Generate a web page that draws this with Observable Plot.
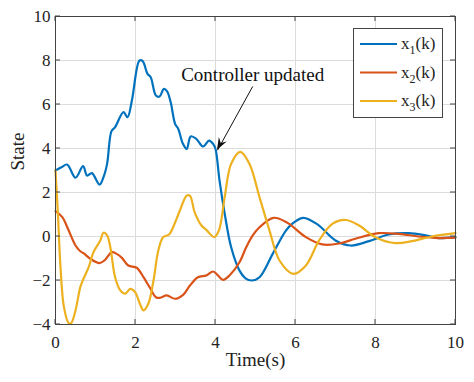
<!DOCTYPE html>
<html>
<head>
<meta charset="utf-8">
<script src="https://cdn.jsdelivr.net/npm/d3@7"></script>
<script src="https://cdn.jsdelivr.net/npm/@observablehq/plot@0.6"></script>
<style>
  body { margin: 0; background: white; }
  #wrap { position: relative; width: 474px; height: 382px; }
  #wrap svg text { font-family: 'Liberation Serif', 'Times New Roman', serif; }
  #legend { position: absolute; left: 353px; top: 28px; }
</style>
</head>
<body>
<div id="wrap"></div>
<script>
// ---- data ----
const x1Time = [0, 0.15, 0.29, 0.5, 0.69, 0.79, 0.91, 1.1, 1.2, 1.29, 1.4, 1.49, 1.7, 1.8, 1.91, 2.1, 2.18, 2.3, 2.38, 2.51, 2.6, 2.71, 2.79, 2.88, 2.99, 3.07, 3.18, 3.28, 3.38, 3.52, 3.69, 3.84, 3.94, 4.0, 4.1, 4.23, 4.39, 4.6, 4.75, 4.9, 5.1, 5.43, 5.76, 5.93, 6.2, 6.55, 7.0, 7.38, 7.84, 8.33, 8.83, 9.25, 9.58, 10];
const x1Vals = [3.0, 3.15, 3.27, 2.67, 3.2, 2.77, 2.88, 2.36, 2.7, 3.3, 4.79, 4.97, 5.65, 5.42, 6.18, 8.0, 7.97, 7.39, 7.24, 6.41, 6.36, 6.71, 6.6, 6.1, 5.12, 4.89, 4.24, 3.98, 4.55, 4.44, 4.09, 4.36, 4.21, 3.98, 2.55, 1.04, -0.48, -1.55, -1.9, -2.0, -1.85, -0.79, 0.27, 0.6, 0.85, 0.55, -0.18, -0.41, -0.21, 0.09, 0.15, 0.05, -0.07, -0.03];

const x2Time = [0, 0.17, 0.33, 0.5, 0.62, 0.7, 0.87, 1.1, 1.24, 1.41, 1.53, 1.66, 1.82, 2.03, 2.2, 2.36, 2.51, 2.61, 2.78, 2.99, 3.19, 3.36, 3.56, 3.77, 3.94, 4.06, 4.19, 4.35, 4.6, 4.77, 4.93, 5.1, 5.45, 5.8, 6.26, 6.67, 7.09, 7.5, 8.08, 8.58, 9.08, 9.58, 10];
const x2Vals = [1.15, 0.88, 0.27, -0.41, -0.67, -0.76, -1.01, -1.21, -1.06, -0.71, -0.79, -0.97, -1.32, -1.42, -1.85, -2.33, -2.76, -2.79, -2.68, -2.83, -2.65, -2.23, -1.85, -1.77, -1.59, -1.77, -1.97, -1.77, -1.17, -0.48, 0.05, 0.42, 0.85, 0.62, -0.03, -0.36, -0.32, -0.1, 0.15, 0.12, 0.0, -0.07, -0.05];

const x3Time = [0, 0.06, 0.12, 0.21, 0.33, 0.39, 0.5, 0.62, 0.7, 0.83, 0.95, 1.12, 1.2, 1.29, 1.37, 1.49, 1.62, 1.74, 1.87, 1.99, 2.11, 2.2, 2.32, 2.45, 2.57, 2.69, 2.84, 2.94, 3.11, 3.28, 3.36, 3.48, 3.65, 3.77, 3.97, 4.09, 4.23, 4.39, 4.62, 4.85, 5.1, 5.35, 5.6, 5.95, 6.26, 6.59, 6.92, 7.26, 7.59, 8.0, 8.5, 8.91, 9.41, 10];
const x3Vals = [3.0, 1.03, -1.23, -3.2, -3.94, -3.94, -3.36, -2.3, -1.92, -1.39, -0.71, -0.18, 0.17, 0.05, -0.48, -1.85, -2.45, -2.6, -2.38, -2.53, -3.06, -3.36, -3.06, -2.0, -0.64, -0.03, 0.09, 0.42, 1.18, 1.86, 1.86, 1.1, 0.5, 0.3, -0.03, 0.3, 1.79, 3.3, 3.85, 3.3, 1.79, 0.27, -1.09, -1.7, -1.32, -0.18, 0.57, 0.75, 0.5, -0.03, -0.3, -0.21, 0.0, 0.15];

const seriesLabels = [["x", "1", "(k)"], ["x", "2", "(k)"], ["x", "3", "(k)"]];
const seriesColors = ["#0072BD", "#D95319", "#EDB120"];

const xTicks = [0, 2, 4, 6, 8, 10];
const yTicks = [-4, -2, 0, 2, 4, 6, 8, 10];

// annotation (in data units: time, state)
const noteText = [{label: "Controller updated", x: 4.93, y: 7.36}];
const noteArrow = [{x1: 4.93, y1: 6.82, x2: 4.05, y2: 3.92}];

// ---- build ----
const serif = "'Liberation Serif', 'Times New Roman', serif";
const series = [
  {time: x1Time, vals: x1Vals},
  {time: x2Time, vals: x2Vals},
  {time: x3Time, vals: x3Vals}
];
const rows = series.flatMap((s, i) => s.time.map((t, j) => ({t, v: s.vals[j], k: i})));

const lineMarks = series.map((s, i) =>
  Plot.line(rows.filter(d => d.k === i), {x: "t", y: "v", stroke: seriesColors[i], strokeWidth: 2.2, curve: "catmull-rom"})
);

const chart = Plot.plot({
  width: 474,
  height: 382,
  marginLeft: 55,
  marginRight: 19,
  marginTop: 16,
  marginBottom: 58,
  style: {fontFamily: serif, fontSize: "17px", background: "white", color: "#222"},
  x: {type: "linear", domain: [0, 10]},
  y: {type: "linear", domain: [-4, 10]},
  marks: [
    Plot.gridX(xTicks, {stroke: "#dcdcdc", strokeOpacity: 1}),
    Plot.gridY(yTicks, {stroke: "#dcdcdc", strokeOpacity: 1}),
    ...lineMarks,
    Plot.frame({stroke: "#444", strokeWidth: 1}),
    Plot.axisX(xTicks, {tickSize: 0, tickPadding: 11, label: null, fill: "#222", fontFamily: serif}),
    Plot.axisY(yTicks, {tickSize: 0, tickPadding: 5, label: null, fill: "#222", fontFamily: serif}),
    Plot.text(["Time(s)"], {frameAnchor: "bottom", dy: 41, fontSize: 19, fill: "#222", fontFamily: serif}),
    Plot.text(["State"], {frameAnchor: "left", dx: -38, rotate: -90, fontSize: 19, fill: "#222", fontFamily: serif}),
    Plot.text(noteText, {x: "x", y: "y", text: "label", fontSize: 19, fill: "#111", fontFamily: serif}),
    Plot.link(noteArrow, {x1: "x1", y1: "y1", x2: "x2", y2: "y2", stroke: "#111", strokeWidth: 1})
  ]
});

const sx = chart.scale("x"), sy = chart.scale("y");
const svg = d3.select(chart);

// filled arrow head at the annotation tip
noteArrow.forEach(a => {
  const ax = sx.apply(a.x1), ay = sy.apply(a.y1), bx = sx.apply(a.x2), by = sy.apply(a.y2);
  const len = Math.hypot(bx - ax, by - ay), ux = (bx - ax) / len, uy = (by - ay) / len;
  const nx = -uy, ny = ux, L = 12, W = 4.5;
  const p = [
    [bx, by],
    [bx - L * ux + W * nx, by - L * uy + W * ny],
    [bx - 0.65 * L * ux, by - 0.65 * L * uy],
    [bx - L * ux - W * nx, by - L * uy - W * ny]
  ];
  svg.append("path").attr("d", "M" + p.map(q => q.join(",")).join("L") + "Z").attr("fill", "#111");
});

// inward ticks on all four sides using the chart's scales
const tk = svg.append("g").attr("stroke", "#444").attr("stroke-width", 1);
const [X0, X1] = sx.range, [Y0, Y1] = sy.range; // Y0 bottom, Y1 top
xTicks.forEach(t => {
  const px = sx.apply(t);
  tk.append("line").attr("x1", px).attr("x2", px).attr("y1", Y0).attr("y2", Y0 - 5);
  tk.append("line").attr("x1", px).attr("x2", px).attr("y1", Y1).attr("y2", Y1 + 5);
});
yTicks.forEach(t => {
  const py = sy.apply(t);
  tk.append("line").attr("y1", py).attr("y2", py).attr("x1", X0).attr("x2", X0 + 5);
  tk.append("line").attr("y1", py).attr("y2", py).attr("x1", X1).attr("x2", X1 - 5);
});

const wrap = document.getElementById("wrap");
wrap.appendChild(chart);

// legend overlay
const lg = d3.select(wrap).append("svg").attr("id", "legend").attr("width", 91).attr("height", 91)
  .style("font-family", serif);
lg.append("rect").attr("x", 0.5).attr("y", 0.5).attr("width", 89).attr("height", 89)
  .attr("fill", "white").attr("stroke", "#444");
seriesLabels.forEach((lab, i) => {
  const cy = 16 + i * 28.5;
  lg.append("line").attr("x1", 7).attr("x2", 44).attr("y1", cy).attr("y2", cy)
    .attr("stroke", seriesColors[i]).attr("stroke-width", 2.2);
  const tx = lg.append("text").attr("x", 48).attr("y", cy + 5).attr("font-size", 17).attr("fill", "#222");
  tx.append("tspan").text(lab[0]);
  tx.append("tspan").attr("dy", 5).attr("font-size", 12).text(lab[1]);
  tx.append("tspan").attr("dy", -5).text(lab[2]);
});
</script>
</body>
</html>
